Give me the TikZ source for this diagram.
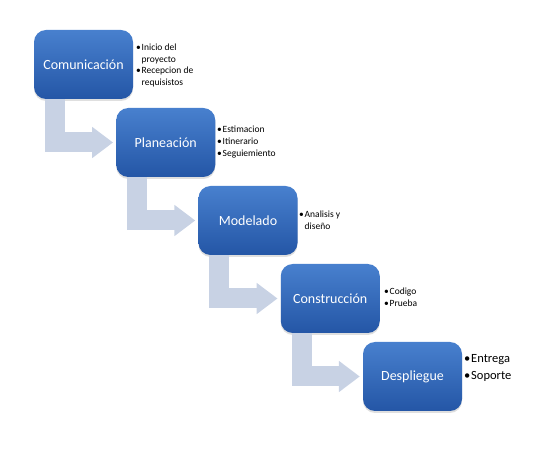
\documentclass[tikz,border=0pt]{standalone}
\usepackage{fontspec}
\setmainfont{Carlito}
\usetikzlibrary{arrows.meta,calc,shadows}

\definecolor{boxtop}{RGB}{72,128,206}
\definecolor{boxbottom}{RGB}{36,86,166}
\definecolor{arrowgray}{RGB}{200,210,228}
\newcommand{\bul}{•\kern0.8pt}
\newcommand{\cont}{\phantom{•\kern0.8pt}}

\begin{document}
\begin{tikzpicture}[x=1pt,y=-1pt,
    stage/.style={rounded corners=12pt,minimum width=99pt,minimum height=69pt,inner sep=0pt,
      top color=boxtop,bottom color=boxbottom,draw=none,text=white,font=\fontsize{14}{16}\selectfont,
      drop shadow={opacity=0.25,shadow xshift=0pt,shadow yshift=-2pt}},
    note/.style={anchor=north west,inner sep=0pt,align=left,font=\fontsize{9.5}{11.5}\selectfont},
    stagearrow/.style={draw=arrowgray,line width=20pt,line join=miter,-{Triangle[length=21pt,width=30pt]}}]
  \useasboundingbox (0,0) rectangle (539,473);
  \node[stage] (com) at (83.5,64.5) {Comunicación};
  \node[stage] (pla) at (165.75,142.5) {Planeación};
  \node[stage] (mod) at (248,220.5) {Modelado};
  \node[stage] (con) at (330.25,298.5) {Construcción};
  \node[stage] (des) at (412.5,376.5) {Despliegue};
  \foreach \a/\b in {com/pla,pla/mod,mod/con,con/des}
    \draw[stagearrow] ($(\a.south west)+(21,0)$) |- ($(\b.west)+(-3,0)$);
  % notas de cada etapa
  \node[note] (comnote) at (136,44) {\bul Inicio del\\\cont proyecto\\\bul Recepcion de\\\cont requisistos};
  \node[note,font=\fontsize{9.5}{12}\selectfont] (planote) at (217,126) {\bul Estimacion\\\bul Itinerario\\\bul Seguiemiento};
  \node[note] (modnote) at (299,211) {\bul Analisis y\\\cont diseño};
  \node[note] (connote) at (384,288) {\bul Codigo\\\bul Prueba};
  \node[note,font=\fontsize{12.5}{17}\selectfont] (desnote) at (464,354) {\bul Entrega\\\bul Soporte};
\end{tikzpicture}
\end{document}
